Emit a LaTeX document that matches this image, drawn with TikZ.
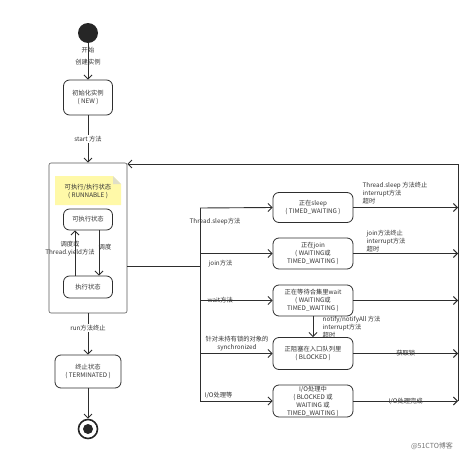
\documentclass[tikz,border=0pt]{standalone}
\usepackage{fontspec}
\setmainfont{Noto Sans CJK SC}
\usetikzlibrary{arrows.meta}
\definecolor{ln}{HTML}{2E2E2E}
\definecolor{tx}{HTML}{333333}
\definecolor{note}{HTML}{FFF9A8}
\begin{document}
\begin{tikzpicture}[x=1pt,y=-1pt,
  every node/.style={font=\fontsize{6.3}{8}\selectfont, text=tx, inner sep=0.5pt},
  state/.style={draw=ln, line width=0.8pt, rounded corners=6pt, align=center, fill=white},
  arr/.style={draw=ln, line width=0.9pt, -{Straight Barb[length=4pt,width=8pt]}},
  lnk/.style={draw=ln, line width=0.9pt},
  lbl/.style={align=left, anchor=west}]
\useasboundingbox (0,0) rectangle (474,455);

% start
\node[circle, fill=black!85, minimum size=20pt, inner sep=0pt] (start) at (88,33) {};
\node (startlbl) at (88,50) {开始};
\node (createlbl) at (88,62) {创建实例};
\node[state, minimum width=49pt, minimum height=35pt] (new) at (88,97.5) {初始化实例\\( NEW )};
\draw[arr] (start) -- (new);

% runnable container
\node[draw=ln!80, line width=0.6pt, rounded corners=2pt, minimum width=78pt, minimum height=150pt] (run) at (88,238) {};
\draw[arr] (new) -- node[fill=white, inner sep=1pt] (startm) {start 方法} (run.north);

% note
\fill[note] (55,176) -- (113,176) -- (121,184) -- (121,205) -- (55,205) -- cycle;
\fill[note!70!black!40] (113,176) -- (121,184) -- (113,184) -- cycle;
\node (notetxt) at (88,191) [align=center] {可执行/执行状态\\( RUNNABLE )};

\node[state, minimum width=49pt, minimum height=21pt] (ready) at (88,219.5) {可执行状态};
\node[state, minimum width=49pt, minimum height=22pt] (exec) at (88,287) {执行状态};
\draw[arr] ([xshift=-13pt]exec.north) -- ([xshift=-13pt]ready.south);
\draw[arr] ([xshift=11pt]ready.south) -- ([xshift=11pt]exec.north);
\node (yieldlbl) at (70,249) [align=center] {调度或\\Thread.yield方法};
\node (schedlbl) at (105,247) {调度};

% terminated
\node[state, minimum width=66pt, minimum height=33pt] (term) at (88,371.5) {终止状态\\( TERMINATED )};
\draw[arr] (run.south) -- node[fill=white, inner sep=1pt, pos=0.35] (runend) {run方法终止} (term.north);
\node[circle, draw=black!85, line width=1.6pt, minimum size=19pt, inner sep=0pt] (endo) at (88,429) {};
\node[circle, fill=black!85, minimum size=10pt, inner sep=0pt] (endi) at (88,429) {};
\draw[arr] (term.south) -- (endo.north);

% right side states
\node[state, minimum width=80pt, minimum height=30pt] (sleep) at (313,207.5) {正在sleep\\( TIMED\_WAITING )};
\node[state, minimum width=80pt, minimum height=31pt] (join) at (313,253.5) {正在join\\( WAITING或\\TIMED\_WAITING )};
\node[state, minimum width=80pt, minimum height=31pt] (wait) at (313,300.5) {正在等待合集里wait\\( WAITING或\\TIMED\_WAITING )};
\node[state, minimum width=80pt, minimum height=32pt] (blocked) at (313,353.5) {正阻塞在入口队列里\\( BLOCKED )};
\node[state, minimum width=80pt, minimum height=32pt] (io) at (313,401) {I/O处理中\\( BLOCKED 或\\WAITING 或\\TIMED\_WAITING )};

% bus
\coordinate (busT) at (200,208);
\coordinate (busB) at (200,401);
\coordinate (busR) at (200,266);
\draw[lnk] (busT) -- (busB);
\draw[lnk] (busR -| run.east) -- (busR);
\draw[arr] (busT) -- (sleep.west);
\draw[arr] (busT |- join.west) -- (join.west);
\draw[arr] (busT |- wait.west) -- (wait.west);
\draw[arr] (busT |- blocked.west) -- (blocked.west);
\draw[arr] (busB) -- (io.west);

\node[anchor=west] (l1) at (189,222) {Thread.sleep方法};
\node[anchor=west] (l2) at (208,264) {join方法};
\node[anchor=west] (l3) at (207,300) {wait方法};
\node (l4) at (237,344) [align=center] {针对未持有锁的对象的\\synchronized};
\node[anchor=west] (l5) at (204,395) {I/O处理等};

\draw[arr] (wait.south) -- (blocked.north);
\node[lbl] (nl) at (322,327) {notify/notifyAll 方法\\interrupt方法\\超时};

% return line
\coordinate (rt) at (458,164);
\coordinate (rb) at (458,401);
\draw[arr] (rb) -- (rt) -- (rt -| run.east);
\draw[arr] (sleep.east) -- (sleep.east -| rt);
\draw[arr] (join.east) -- (join.east -| rt);
\draw[arr] (wait.east) -- (wait.east -| rt);
\draw[arr] (blocked.east) -- node (lock) {获取锁} (blocked.east -| rt);
\draw[arr] (io.east) -- node (iodone) {I/O处理完成} (io.east -| rt);

\node[lbl] (sl) at (362,193) {Thread.sleep 方法终止\\interrupt方法\\超时};
\node[lbl] (jl) at (366,241) {join方法终止\\interrupt方法\\超时};

\node[text=black!55, font=\fontsize{7}{8}\selectfont] (wm) at (432,446) {@51CTO博客};
\end{tikzpicture}
\end{document}
